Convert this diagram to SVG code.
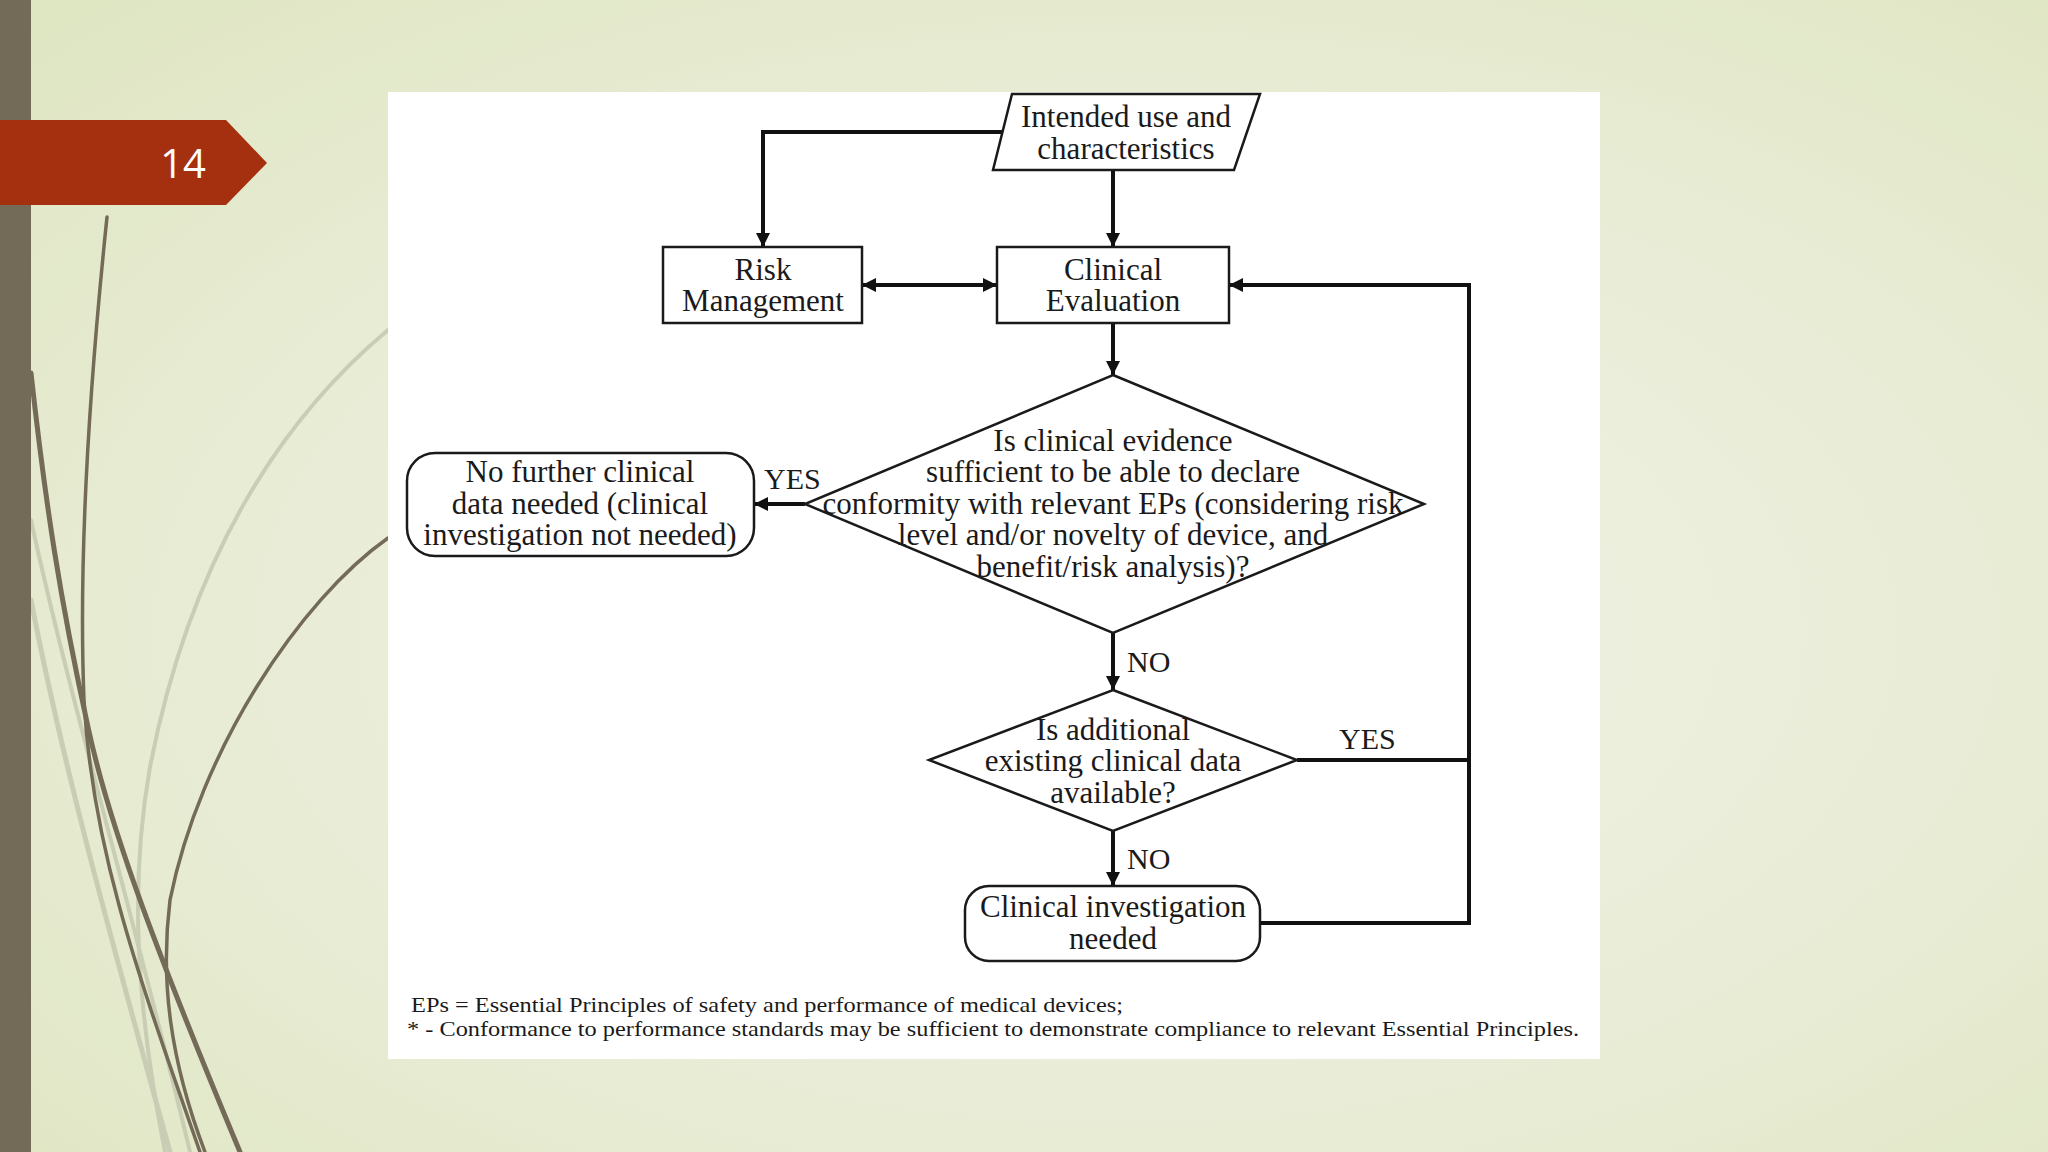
<svg xmlns="http://www.w3.org/2000/svg" width="2048" height="1152" viewBox="0 0 2048 1152">
<defs>
<radialGradient id="bg" cx="0.55" cy="0.55" r="0.75">
<stop offset="0" stop-color="#F1F3E6"/>
<stop offset="0.6" stop-color="#E8ECD5"/>
<stop offset="1" stop-color="#DFE6C2"/>
</radialGradient>
<marker id="ah" viewBox="0 0 14 14" refX="14" refY="7" markerWidth="14" markerHeight="14" markerUnits="userSpaceOnUse" orient="auto-start-reverse">
<path d="M0,0 L14,7 L0,14 z" fill="#111"/>
</marker>
<style>
.t{font-family:"Liberation Serif","Times New Roman",serif;font-size:31px;fill:#1a1a1a;text-anchor:middle}
.lb{font-family:"Liberation Serif","Times New Roman",serif;font-size:30px;fill:#1a1a1a}
.fn{font-family:"Liberation Serif","Times New Roman",serif;font-size:21px;fill:#1a1a1a}
.shape{fill:#fff;stroke:#1a1a1a;stroke-width:2.5}
.con{fill:none;stroke:#111;stroke-width:4}
.curve{fill:none;stroke:#736B57;stroke-linecap:round}
.lcurve{fill:none;stroke:#C9CDB3;stroke-linecap:round}
</style>
</defs>
<rect width="2048" height="1152" fill="url(#bg)"/>
<g id="decor">
<path class="lcurve" stroke-width="4" d="M388,330 C280,420 190,560 150,767 C130,880 135,1000 165,1152"/>
<path class="lcurve" stroke-width="5" d="M31,600 C60,750 100,900 170,1152"/>
<path class="lcurve" stroke-width="4" d="M31,520 C70,700 130,900 190,1152"/>
<path class="curve" stroke-width="3.5" d="M107,217 C90,380 78,550 84,700 C92,850 140,980 200,1152"/>
<path class="curve" stroke-width="5" d="M31,373 C45,500 60,600 88,727 C110,830 160,960 240,1152"/>
<path class="curve" stroke-width="3.5" d="M388,538 C300,600 200,750 170,900 C160,980 170,1060 205,1152"/>
<rect x="0" y="0" width="31" height="1152" fill="#736B57"/>
<path d="M0,120 L226,120 L267,163 L226,205 L0,205 z" fill="#A5300F"/>
<text x="183" y="178" font-family="'Open Sans','Liberation Sans',sans-serif" font-size="40" fill="#fff" text-anchor="middle">14</text>
</g>
<rect id="panel" x="388" y="92" width="1212" height="967" fill="#fff"/>
<g id="connectors">
<path class="con" d="M1004,132 L763,132 L763,247" marker-end="url(#ah)"/>
<path class="con" d="M1113,170 L1113,247" marker-end="url(#ah)"/>
<path class="con" d="M862,285 L997,285" marker-start="url(#ah)" marker-end="url(#ah)"/>
<path class="con" d="M1113,323 L1113,375" marker-end="url(#ah)"/>
<path class="con" d="M805,504 L754,504" marker-end="url(#ah)"/>
<path class="con" d="M1113,633 L1113,690" marker-end="url(#ah)"/>
<path class="con" d="M1297,760 L1469,760"/>
<path class="con" d="M1113,831 L1113,886" marker-end="url(#ah)"/>
<path class="con" d="M1260,923 L1469,923 L1469,285 L1229,285" marker-end="url(#ah)"/>
<text class="lb" x="764" y="489">YES</text>
<text class="lb" x="1127" y="672">NO</text>
<text class="lb" x="1339" y="749">YES</text>
<text class="lb" x="1127" y="869">NO</text>
</g>
<g id="intended">
<path class="shape" d="M1012,94 L1260,94 L1234,170 L993,170 z"/>
<text class="t" x="1126" y="127">Intended use and</text>
<text class="t" x="1126" y="159">characteristics</text>
</g>
<g id="risk">
<rect class="shape" x="663" y="247" width="199" height="76"/>
<text class="t" x="763" y="280">Risk</text>
<text class="t" x="763" y="311">Management</text>
</g>
<g id="clinical-eval">
<rect class="shape" x="997" y="247" width="232" height="76"/>
<text class="t" x="1113" y="280">Clinical</text>
<text class="t" x="1113" y="311">Evaluation</text>
</g>
<g id="decision1">
<path class="shape" d="M1113,375 L1424,504 L1113,633 L805,504 z"/>
<text class="t" x="1113" y="451">Is clinical evidence</text>
<text class="t" x="1113" y="482">sufficient to be able to declare</text>
<text class="t" x="1113" y="514">conformity with relevant EPs (considering risk</text>
<text class="t" x="1113" y="545">level and/or novelty of device, and</text>
<text class="t" x="1113" y="577">benefit/risk analysis)?</text>
</g>
<g id="no-further">
<rect class="shape" x="407" y="453" width="347" height="103" rx="28"/>
<text class="t" x="580" y="482">No further clinical</text>
<text class="t" x="580" y="514">data needed (clinical</text>
<text class="t" x="580" y="545">investigation not needed)</text>
</g>
<g id="decision2">
<path class="shape" d="M1113,690 L1297,760 L1113,831 L929,760 z"/>
<text class="t" x="1113" y="740">Is additional</text>
<text class="t" x="1113" y="771">existing clinical data</text>
<text class="t" x="1113" y="803">available?</text>
</g>
<g id="clinical-inv">
<rect class="shape" x="965" y="886" width="295" height="75" rx="24"/>
<text class="t" x="1113" y="917">Clinical investigation</text>
<text class="t" x="1113" y="949">needed</text>
</g>
<g id="footnote">
<text class="fn" x="411" y="1012" textLength="712" lengthAdjust="spacingAndGlyphs">EPs = Essential Principles of safety and performance of medical devices;</text>
<text class="fn" x="407" y="1036" textLength="1172" lengthAdjust="spacingAndGlyphs">* - Conformance to performance standards may be sufficient to demonstrate compliance to relevant Essential Principles.</text>
</g>
</svg>
